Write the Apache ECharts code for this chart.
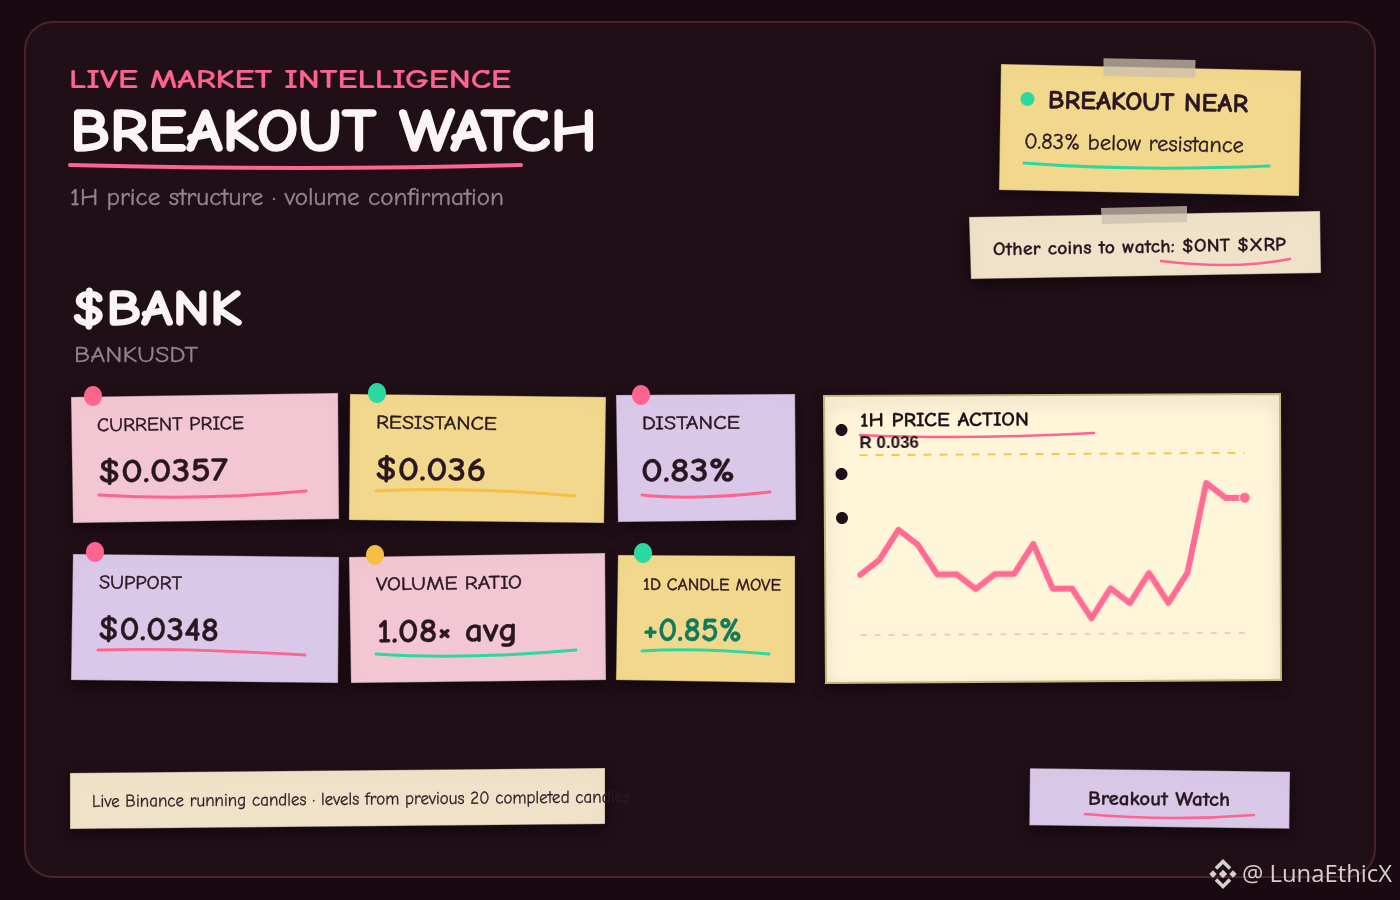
<!DOCTYPE html>
<html><head><meta charset="utf-8">
<style>html,body{margin:0;padding:0;background:#180a10;width:1400px;height:900px;overflow:hidden}
#paper,#line{position:absolute;left:0;top:0;width:1400px;height:900px}
#line{transform:rotate(-0.35deg);transform-origin:1052px 538px}</style>
<script src="https://cdn.jsdelivr.net/npm/echarts@6/dist/echarts.min.js"></script>
</head><body><div id="paper"></div><div id="line"></div>
<script>
// ---- data ----
var hours = ['1','2','3','4','5','6','7','8','9','10','11','12','13','14','15','16','17','18','19','20','21'];
var prices = [0.0352,0.0353,0.0355,0.0354,0.0352,0.0352,0.0351,0.0352,0.0352,0.0354,0.0351,0.0351,0.0349,0.0351,0.0350,0.0352,0.0350,0.0352,0.0358,0.0357,0.0357];
var resistance = 0.036;
var support = 0.0348;
var resistanceLabel = 'R 0.036';
var metricLabels = ['CURRENT PRICE','RESISTANCE','DISTANCE','SUPPORT','VOLUME RATIO','1D CANDLE MOVE'];
var metricValues = ['$0.0357','$0.036','0.83%','$0.0348','1.08× avg','+0.85%'];

// ---- style ----
var FONT = '"Comic Sans MS","Comic Neue","Lato",cursive';
var PINK='#ff6390',GREEN='#2bd9a0',YEL='#f5bf45',C_PINK='#f2c6d2',C_YEL='#f2d88c',C_LAV='#d9c8e8',C_CREAM='#f0e2c8',INK='#2a1620',MUTE='#94838c';
var mctx = document.createElement('canvas').getContext('2d');
var g = [];
function note(pts,fill,stroke,sw){g.push({type:'polygon',shape:{points:pts},silent:true,
  style:{fill:fill,stroke:stroke||'rgba(70,50,60,0.35)',lineWidth:sw||1,shadowBlur:14,shadowOffsetY:6,shadowColor:'rgba(0,0,0,0.4)'}});}
function tape(pts){g.push({type:'polygon',shape:{points:pts},silent:true,style:{fill:'rgba(203,192,173,0.75)'}});}
function dot(x,y,rx,ry,fill){g.push({type:'ellipse',shape:{cx:x,cy:y,rx:rx,ry:ry},silent:true,style:{fill:fill}});}
function txt(s,x,y,x2,size,weight,fill,rotDeg,thick,family){
  var fam=family||FONT;
  mctx.font=weight+' '+size+'px '+fam;
  var sx=(x2-x)/mctx.measureText(s).width;
  var st={text:s,fontFamily:fam,fontSize:size,fontWeight:weight,fill:fill,align:'left',verticalAlign:'middle'};
  if(thick){st.stroke=fill;st.lineWidth=thick;st.lineJoin='round';}
  g.push({type:'text',x:x,y:y,rotation:(rotDeg||0)*Math.PI/180,scaleX:sx,silent:true,style:st});
}
function stroke(p0,m,p2,color,w){
  var cx=2*m[0]-(p0[0]+p2[0])/2, cy=2*m[1]-(p0[1]+p2[1])/2;
  g.push({type:'bezierCurve',shape:{x1:p0[0],y1:p0[1],x2:p2[0],y2:p2[1],cpx1:cx,cpy1:cy},silent:true,
    style:{fill:null,stroke:color,lineWidth:w,lineCap:'round'}});
}

// frame
g.push({type:'rect',shape:{x:25,y:22,width:1350,height:855,r:28},silent:true,style:{fill:'#210f18',stroke:'#46232f',lineWidth:2}});

// header
txt('LIVE MARKET INTELLIGENCE',69,81,511,26,'bold',PINK,0,0.2);
txt('BREAKOUT WATCH',70,134,597,60,'bold','#fbf5f7',0,1.6);
stroke([70,165],[300,168],[521,165],PINK,4);
txt('1H price structure · volume confirmation',70,198,504,24,'normal',MUTE,0,0.4);
txt('$BANK',72,311,242,50,'bold','#fbf5f7',0,1.4);
txt('BANKUSDT',74,355,198,23,'normal',MUTE,0,0.3);

// top-right notes
note([[1001,64],[1301,70.7],[1299,196],[999,190]],C_YEL);
tape([[1103.5,58.3],[1195.5,60],[1195,78],[1103.5,76]]);
dot(1027.5,99,7,7,GREEN);
txt('BREAKOUT NEAR',1048,101,1248,26,'bold',INK,-1.1,0.5);
txt('0.83% below resistance',1024,142,1244,22,'normal',INK,-1.1,0.4);
stroke([1024,163],[1140,168],[1269,166],GREEN,3);
note([[969,217],[1320,211],[1321,273],[971,279]],C_CREAM);
tape([[1101,208],[1187,206],[1187,222],[1102,224]]);
txt('Other coins to watch: $ONT $XRP',993,250,1286,19,'bold',INK,1,0.2);
stroke([1161,261],[1230,265],[1290,259],PINK,2.5);

// metric cards
var cards=[
 {p:[[71,397],[338,393],[339,519],[73,523]],c:C_PINK,pin:[93,396,PINK],l:[97,426,244,19],v:[98,473,228,34],u:[[99,495],[200,497],[306,491]],uc:PINK,r:0.9,vc:INK},
 {p:[[350,394],[606,397],[604,523],[349,520]],c:C_YEL,pin:[377,393,GREEN],l:[376,423,497,19],v:[375,470,486,34],u:[[376,491],[470,490],[575,496]],uc:YEL,r:-0.7,vc:INK},
 {p:[[616,395],[795,394],[796,520],[618,522]],c:C_LAV,pin:[641,395,PINK],l:[642,424,740,19],v:[641,472,735,34],u:[[642,495],[700,497],[770,492]],uc:PINK,r:0.4,vc:INK},
 {p:[[73,554],[339,557],[338,683],[71,680]],c:C_LAV,pin:[95,552,PINK],l:[99,583,182,19],v:[98,630,219,34],u:[[98,650],[190,650],[305,655]],uc:PINK,r:-0.6,vc:INK},
 {p:[[349,557],[605,553],[606,680],[351,683]],c:C_PINK,pin:[375,555,YEL],l:[376,585,522,19],v:[377,633,518,34],u:[[376,654],[470,656],[576,650]],uc:GREEN,r:0.8,vc:INK},
 {p:[[618,555],[795,556],[795,683],[616,680]],c:C_YEL,pin:[643,553,GREEN],l:[643,585,781,17],v:[643,631,742,34],u:[[642,651],[700,650],[769,654]],uc:GREEN,r:-0.3,vc:'#0f7a5c'}
];
cards.forEach(function(c,i){
  note(c.p,c.c);
  dot(c.pin[0],c.pin[1],9,10,c.pin[2]);
  txt(metricLabels[i],c.l[0],c.l[1],c.l[2],c.l[3],'normal',INK,c.r,0.5);
  txt(metricValues[i],c.v[0],c.v[1],c.v[2],c.v[3],'bold',c.vc,c.r,0.3);
  stroke(c.u[0],c.u[1],c.u[2],c.uc,3);
});

// chart card
note([[824,396],[1280,394],[1281,680],[826,683]],'#fff6da','#c7b67c',2);
dot(841.5,430,6,6,'#210f18');dot(841.5,474,6,6,'#210f18');dot(842,518,6,6,'#210f18');
txt('1H PRICE ACTION',860,421,1029,20,'bold','#1e0f15',0.35,0.2);
stroke([860,435],[970,437],[1094,433],PINK,2.5);

// footer notes
txt('Live Binance running candles · levels from previous 20 completed candles',92,802,630,18,'normal','#2e1a24',0.5,0.3);
var footerText=g.pop();
note([[70,773],[605,768],[605,824],[70,829]],C_CREAM);
g.push(footerText);
note([[1030,768.3],[1290,771.7],[1289.3,828.7],[1029.3,825.3]],C_LAV);
txt('Breakout Watch',1088,799,1230,20,'bold',INK,-0.5,0.3);
stroke([1085,814],[1170,818],[1254,815],PINK,2.5);

// watermark
var WM='#d9ced2';
[[1213,874,3.7],[1233,874,3.7],[1223,874,4.2]].forEach(function(c){var r=c[2];
  g.push({type:'polygon',shape:{points:[[c[0],c[1]-r],[c[0]+r,c[1]],[c[0],c[1]+r],[c[0]-r,c[1]]]},silent:true,style:{fill:WM}});});
g.push({type:'polyline',shape:{points:[[1216,868.5],[1223,861.5],[1230,868.5]]},silent:true,style:{stroke:WM,lineWidth:3.6,fill:null}});
g.push({type:'polyline',shape:{points:[[1216,879.5],[1223,886.5],[1230,879.5]]},silent:true,style:{stroke:WM,lineWidth:3.6,fill:null}});
txt('@ LunaEthicX',1242,875,1392,24,'normal',WM,0,0,'"Open Sans"');

var paper=echarts.init(document.getElementById('paper'));
paper.setOption({animation:false,backgroundColor:'#180a10',graphic:{elements:g}});

// ---- line chart ----
var last=prices.length-1;
var LINE='#ff6b92';
var line=echarts.init(document.getElementById('line'));
line.setOption({
  animation:false,backgroundColor:'transparent',
  grid:{left:860,right:155,top:454,height:179.6},
  xAxis:{type:'category',data:hours,boundaryGap:false,show:false},
  yAxis:{type:'value',min:support,max:resistance,show:false,scale:true},
  series:[{type:'line',clip:false,silent:true,showSymbol:true,
    data:prices.map(function(v,i){return i===last?
      {value:v,symbol:'circle',symbolSize:11,itemStyle:{color:LINE,borderColor:'#fff6e0',borderWidth:1}}:
      {value:v,symbol:'none'};}),
    lineStyle:{color:LINE,width:6,join:'round',cap:'round'},itemStyle:{color:LINE},
    markLine:{silent:true,symbol:'none',animation:false,precision:4,data:[
      {yAxis:resistance,lineStyle:{color:'#f5c64e',type:[8,8],width:2},
       label:{show:true,formatter:resistanceLabel,position:'insideStartTop',distance:[0,3],color:'#1e0f15',fontFamily:'"Liberation Sans"',fontWeight:'bold',fontSize:17}},
      {yAxis:support,lineStyle:{color:'#dcd3c4',type:[6,8],width:2},label:{show:false}}
    ]}
  }]
});
</script></body></html>
